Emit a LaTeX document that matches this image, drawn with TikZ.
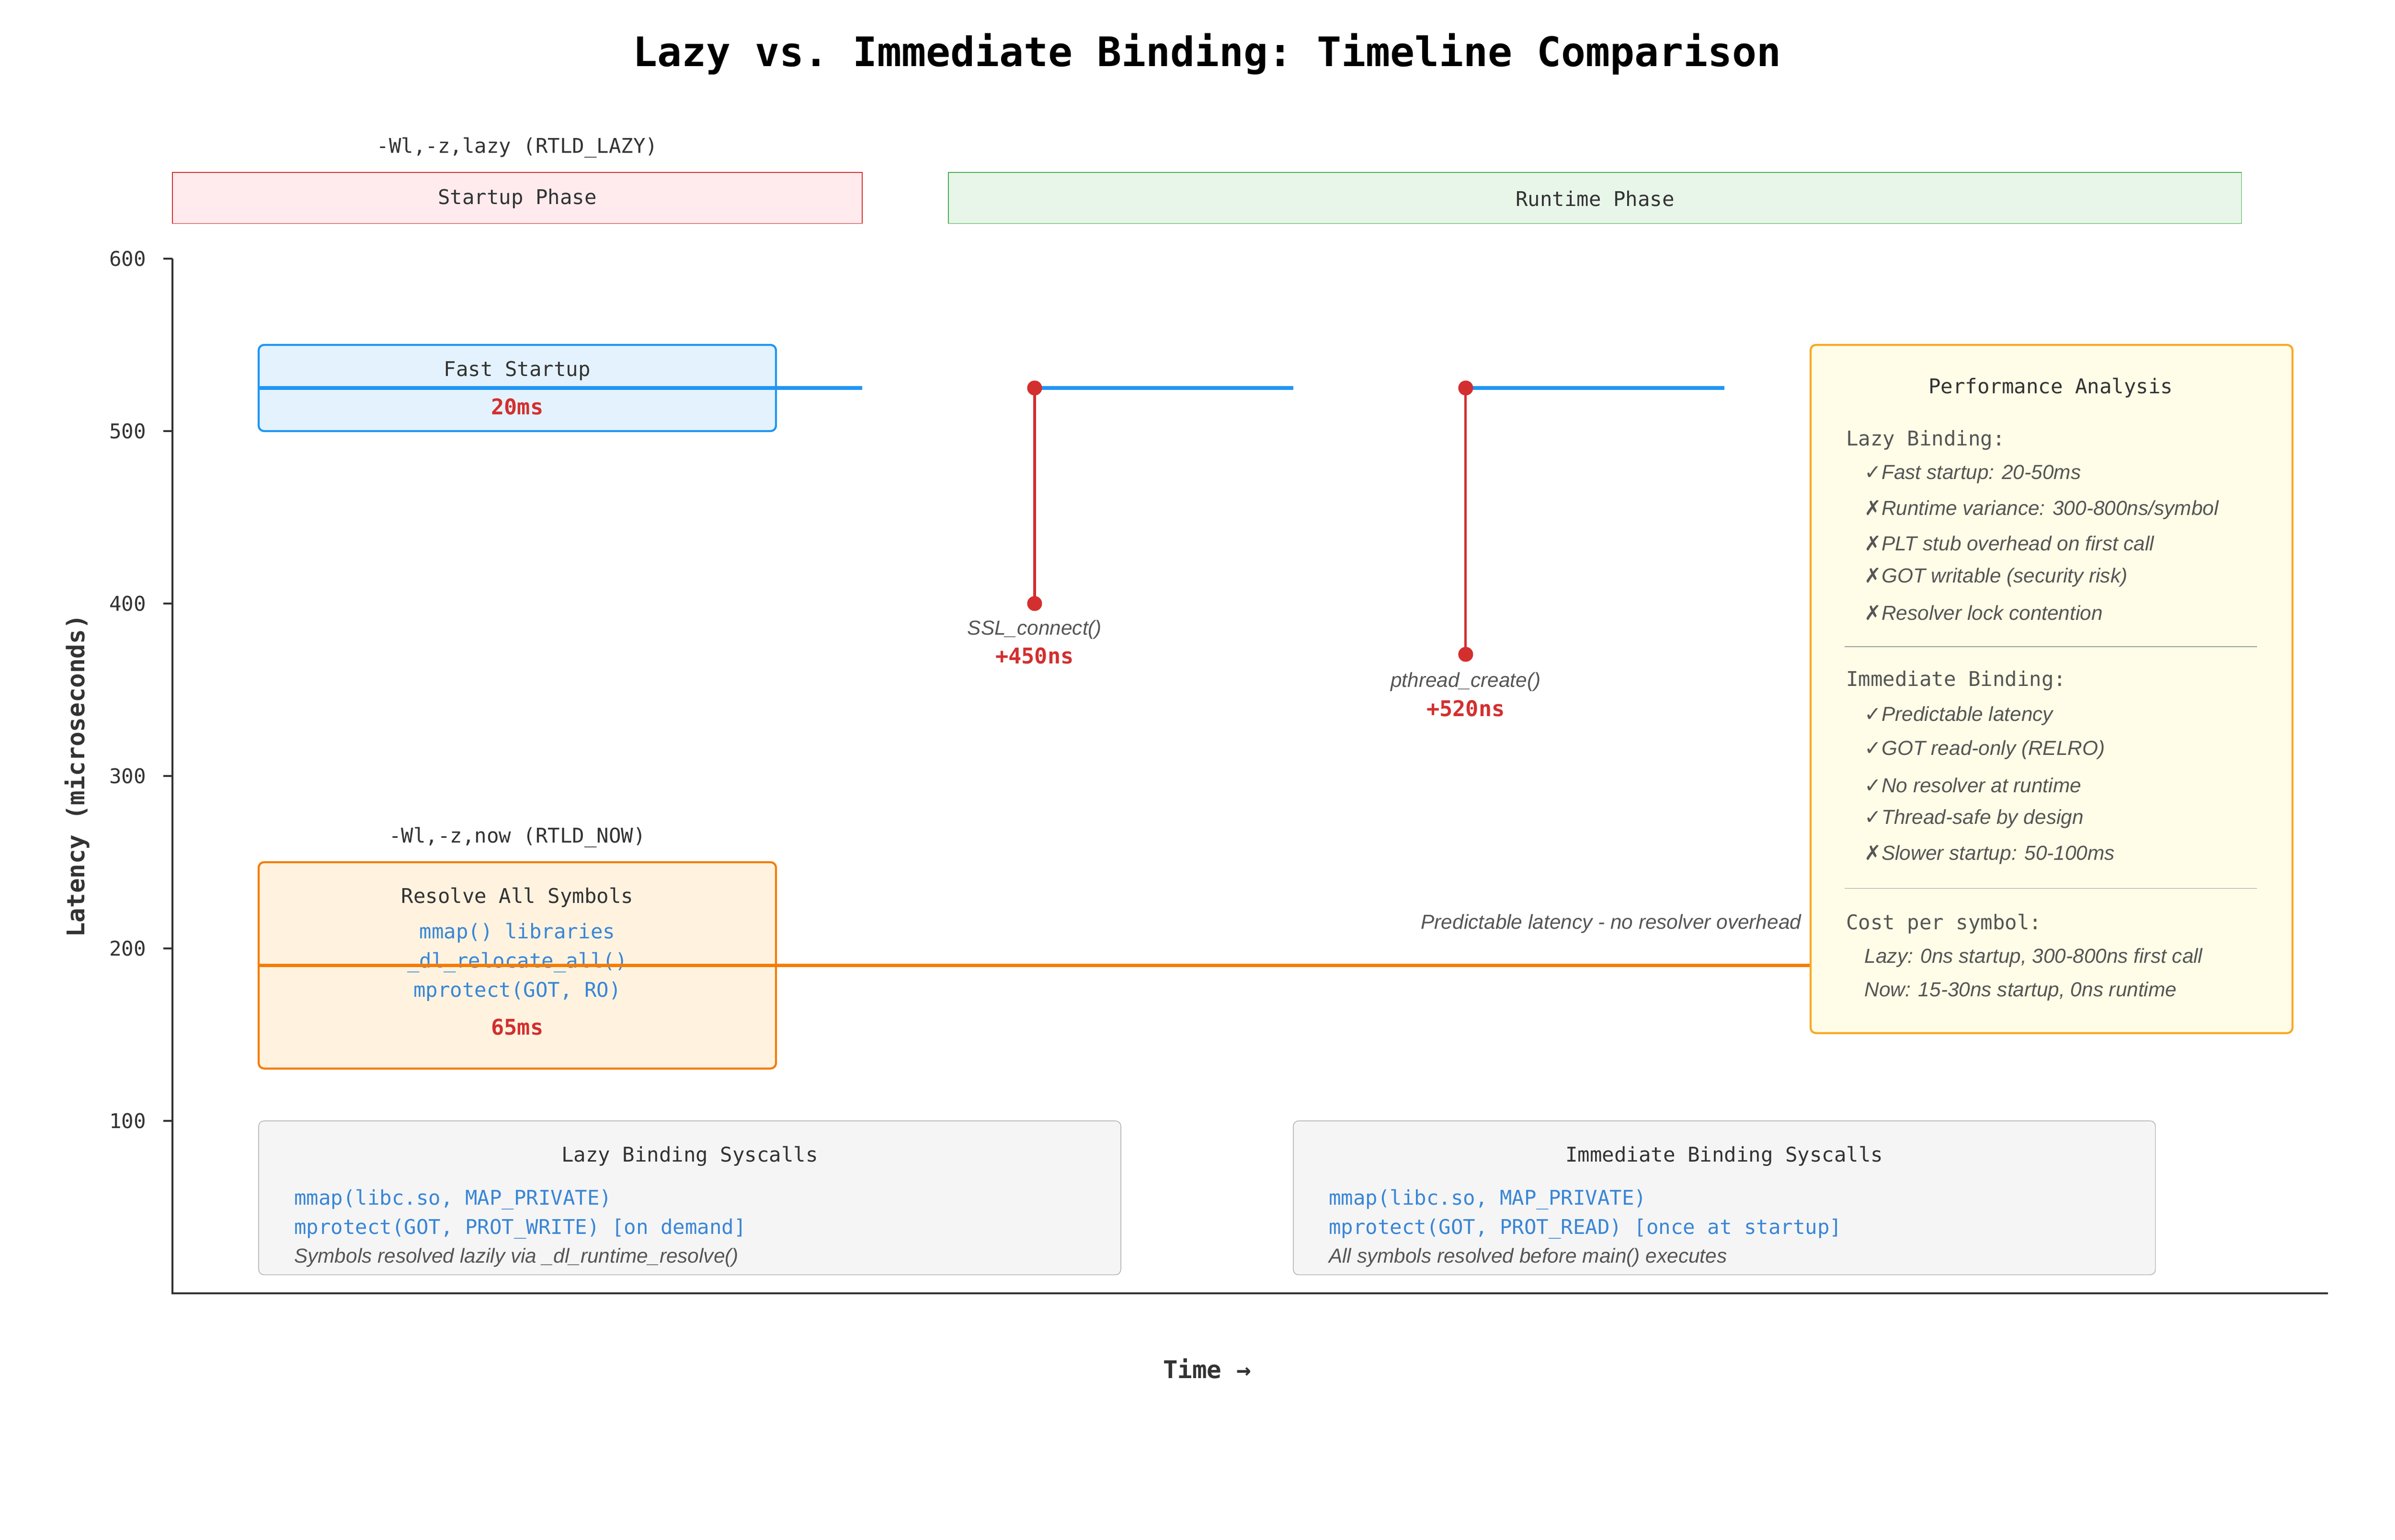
\documentclass[tikz,border=0pt]{standalone}
\usepackage{fontspec}
\setmainfont{Liberation Sans}
\setmonofont{DejaVu Sans Mono}
\newfontfamily\symf{DejaVu Sans}
\definecolor{redc}{HTML}{D32F2F}
\definecolor{bluec}{HTML}{2196F3}
\definecolor{monob}{HTML}{3A86D6}
\definecolor{orc}{HTML}{F57C00}
\definecolor{grayt}{HTML}{555555}
\definecolor{pinkf}{HTML}{FFEBEE}
\definecolor{greenf}{HTML}{E8F5E9}
\definecolor{greenb}{HTML}{4CAF50}
\definecolor{bluef}{HTML}{E3F2FD}
\definecolor{orf}{HTML}{FFF3E0}
\definecolor{yelf}{HTML}{FFFDE7}
\definecolor{yelb}{HTML}{F9A825}
\definecolor{grayf}{HTML}{F5F5F5}
\definecolor{grayb}{HTML}{9E9E9E}
\definecolor{axc}{HTML}{333333}
\begin{document}
\begin{tikzpicture}[x=0.04cm,y=-0.04cm,
  mono/.style={font=\ttfamily\fontsize{15}{18}\selectfont,text=axc},
  monobl/.style={font=\ttfamily\fontsize{15}{18}\selectfont,text=monob},
  redb/.style={font=\ttfamily\bfseries\fontsize{16}{19}\selectfont,text=redc},
  ital/.style={font=\itshape\fontsize{15}{18}\selectfont,text=grayt},
  tick/.style={font=\ttfamily\fontsize{15}{18}\selectfont,text=axc,anchor=east},
  lft/.style={anchor=west},
  dot/.style={circle,fill=redc,inner sep=0pt,minimum size=11pt}]
\useasboundingbox[fill=white] (0,0) rectangle (1555.6,1000);
\node[font=\ttfamily\bfseries\fontsize{30}{34}\selectfont,text=black] (title) at (784,35) {Lazy vs. Immediate Binding: Timeline Comparison};
\node[mono] (lazyflag) at (336,96) {-Wl,-z,lazy (RTLD\_LAZY)};
\draw[redc,fill=pinkf] (112,112) rectangle (560,145);
\node[mono] (sp) at (336,129) {Startup Phase};
\draw[greenb,fill=greenf] (616,112) rectangle (1456,145);
\node[mono] (rp) at (1036,129) {Runtime Phase};
% axes
\draw[axc,line width=1.5pt] (112,168) -- (112,840) -- (1512,840);
\foreach \v/\y in {600/168,500/280,400/392,300/504,200/616,100/728}{
  \draw[axc,line width=1.2pt] (106,\y) -- (112,\y);
  \node[tick] at (98,\y) {\v};}
\node[font=\ttfamily\bfseries\fontsize{18}{22}\selectfont,text=axc,rotate=90] (ylab) at (50,504) {Latency (microseconds)};
\node[font=\ttfamily\bfseries\fontsize{18}{22}\selectfont,text=axc] (xlab) at (784,889) {Time →};
% fast startup
\draw[bluec,fill=bluef,line width=1.5pt,rounded corners=4pt] (168,224) rectangle (504,280);
\node[mono] (fs) at (336,241) {Fast Startup};
\node[redb] (fsv) at (336,264) {20ms};
\draw[bluec,line width=2.5pt] (168,252) -- (560,252);
\draw[bluec,line width=2.5pt] (672,252) -- (840,252);
\draw[bluec,line width=2.5pt] (952,252) -- (1120,252);
\node[dot] (a1) at (672,252) {};
\node[dot] (a2) at (672,392) {};
\draw[redc,line width=1.8pt] (a1.center) -- (a2.center);
\node[dot] (b1) at (952,252) {};
\node[dot] (b2) at (952,425) {};
\draw[redc,line width=1.8pt] (b1.center) -- (b2.center);
\node[ital] (ssl) at (672,409) {SSL\_connect()};
\node[redb] (sslv) at (672,426) {+450ns};
\node[ital] (pth) at (952,443) {pthread\_create()};
\node[redb] (pthv) at (952,460) {+520ns};
% now
\node[mono] (nowflag) at (336,544) {-Wl,-z,now (RTLD\_NOW)};
\draw[orc,fill=orf,line width=1.5pt,rounded corners=4pt] (168,560) rectangle (504,694);
\node[mono] (ras) at (336,583) {Resolve All Symbols};
\node[monobl] (r1) at (336,606) {mmap() libraries};
\node[monobl] (r2) at (336,625) {\_dl\_relocate\_all()};
\node[monobl] (r3) at (336,644) {mprotect(GOT, RO)};
\node[redb] (rv) at (336,667) {65ms};
\draw[orc,line width=2.5pt] (168,627) -- (1176,627);
\node[ital,anchor=east] (pred) at (1173,600) {Predictable latency - no resolver overhead};
% performance
\draw[yelb,fill=yelf,line width=1.5pt,rounded corners=4pt] (1176,224) rectangle (1489,671);
\node[mono] (pa) at (1332,252) {Performance Analysis};
\node[mono,lft,text=grayt] at (1196,286) {Lazy Binding:};
\node[ital,lft] at (1208,308) {{\symf ✓}Fast startup: 20-50ms};
\node[ital,lft] at (1208,331) {{\symf ✗}Runtime variance: 300-800ns/symbol};
\node[ital,lft] at (1208,353) {{\symf ✗}PLT stub overhead on first call};
\node[ital,lft] at (1208,375) {{\symf ✗}GOT writable (security risk)};
\node[ital,lft] at (1208,398) {{\symf ✗}Resolver lock contention};
\draw[grayb] (1198,420) -- (1466,420);
\node[mono,lft,text=grayt] at (1196,442) {Immediate Binding:};
\node[ital,lft] at (1208,465) {{\symf ✓}Predictable latency};
\node[ital,lft] at (1208,487) {{\symf ✓}GOT read-only (RELRO)};
\node[ital,lft] at (1208,510) {{\symf ✓}No resolver at runtime};
\node[ital,lft] at (1208,532) {{\symf ✓}Thread-safe by design};
\node[ital,lft] at (1208,555) {{\symf ✗}Slower startup: 50-100ms};
\draw[grayb] (1198,577) -- (1466,577);
\node[mono,lft,text=grayt] at (1196,600) {Cost per symbol:};
\node[ital,lft] at (1208,622) {Lazy: 0ns startup, 300-800ns first call};
\node[ital,lft] at (1208,644) {Now: 15-30ns startup, 0ns runtime};
% syscalls
\draw[grayb,fill=grayf,rounded corners=4pt] (168,728) rectangle (728,828);
\node[mono] (ls) at (448,751) {Lazy Binding Syscalls};
\node[monobl,lft] at (188,779) {mmap(libc.so, MAP\_PRIVATE)};
\node[monobl,lft] at (188,798) {mprotect(GOT, PROT\_WRITE) [on demand]};
\node[ital,lft] at (188,817) {Symbols resolved lazily via \_dl\_runtime\_resolve()};
\draw[grayb,fill=grayf,rounded corners=4pt] (840,728) rectangle (1400,828);
\node[mono] (is) at (1120,751) {Immediate Binding Syscalls};
\node[monobl,lft] at (860,779) {mmap(libc.so, MAP\_PRIVATE)};
\node[monobl,lft] at (860,798) {mprotect(GOT, PROT\_READ) [once at startup]};
\node[ital,lft] at (860,817) {All symbols resolved before main() executes};
\end{tikzpicture}
\end{document}
